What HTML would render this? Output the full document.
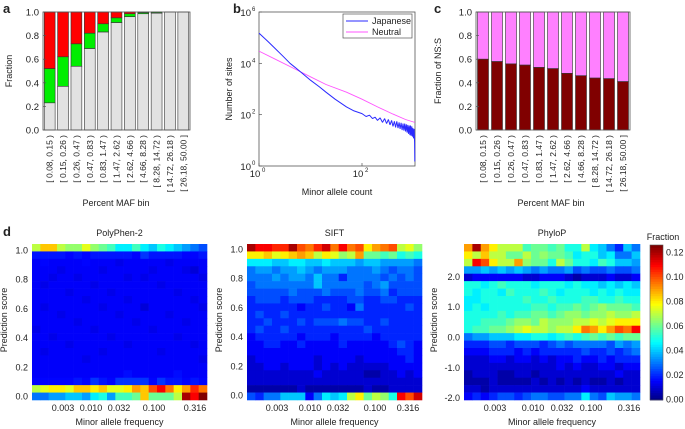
<!DOCTYPE html>
<html><head><meta charset="utf-8">
<style>
html,body{margin:0;padding:0;background:#fff;}
svg{display:block;font-family:"Liberation Sans",sans-serif;}
text{fill:#222;}
</style></head>
<body>
<svg id="fig" width="685" height="429" viewBox="0 0 685 429" xmlns="http://www.w3.org/2000/svg">
<text x="3" y="13" font-size="13" font-weight="bold">a</text>
<text x="233" y="13" font-size="13" font-weight="bold">b</text>
<text x="434" y="13" font-size="13" font-weight="bold">c</text>
<text x="3" y="236" font-size="13" font-weight="bold">d</text>
<g id="ga"></g>
<g id="gb"></g>
<g id="gc"></g>
<g id="gd"></g>
</svg>
<script>
// ---- Panel a / c data ----
const mafBins = ["[ 0.08, 0.15 )","[ 0.15, 0.26 )","[ 0.26, 0.47 )","[ 0.47, 0.83 )","[ 0.83, 1.47 )","[ 1.47, 2.62 )","[ 2.62, 4.66 )","[ 4.66, 8.28 )","[ 8.28, 14.72 )","[ 14.72, 26.18 )","[ 26.18, 50.00 ]"];
const grayFrac = [0.23,0.37,0.54,0.69,0.83,0.91,0.96,0.985,0.99,1.0,1.0];
const greenTop = [0.52,0.62,0.73,0.82,0.90,0.95,0.985,0.995,0.997,1.0,1.0];
const nsFrac = [0.60,0.58,0.56,0.55,0.53,0.52,0.48,0.46,0.44,0.435,0.41];
const fracTicks = [0,0.2,0.4,0.6,0.8,1.0];

// ---- Panel b data ----
const jpCount = [1,1.5,2,3,4,5,7,10,15,20,30,50,70,100,120,140,160,180,200,225,250,275,300,325,350,375,400,425,450,475,500,525,550,575,600,625,650,675,700,725,750,775,800,825,850,875,900,925,950,975,1000,1025,1050,1060];
const jpSites = [150000,70000,40000,18000,10000,7000,4000,2200,1200,750,400,200,140,110,85,95,70,80,60,75,50,70,45,65,40,60,35,55,32,55,30,50,28,48,25,45,24,45,22,42,20,40,18,38,16,38,15,35,14,30,12,28,8,1.5];
const ntCount = [1,2,5,10,20,50,100,200,400,700,1000,1060];
const ntSites = [30000,15000,6000,3000,1500,750,400,200,105,65,52,50];
const bxTicks = [0,2];
const byTicks = [0,2,4,6];

// ---- Panel d data (fraction x100), 21 rows top->bottom, 21 cols ----
const xFreqTicks = ["0.003","0.010","0.032","0.100","0.316"];
const polyRows = [
[7,8.5,8.5,7,6.5,6.5,7.5,6.5,6,5.5,4.5,4.5,5.5,4.5,4,5,4.5,4,3.5,3,2.5],
[1.8,1.8,1.8,1.8,1.6,1.8,1.6,1.8,1.8,1.8,1.8,1.8,1.6,2.2,1.8,1.8,1.8,1.8,1.6,1.6,1.8],
[1.5,1.6,1.5,1.5,1.5,1.5,1.6,1.5,1.5,1.5,1.3,1.5,1.5,1.5,1.5,1.5,1.3,1.5,1.5,1.5,1.5],
[1.5,1.5,1.5,1.3,1.5,1.5,1.5,1.5,1.3,1.5,1.5,1.5,1.5,1.5,1.3,1.5,1.5,1.5,1.3,1.1,1.5],
[1.5,1.5,1.3,1.5,1.5,1.3,1.5,1.5,1.5,1.5,1.5,1.3,1.5,1.3,1.5,1.5,1.5,1.5,1.5,1.5,1.3],
[1.5,1.3,1.5,1.5,1.5,1.5,1.5,1.3,1.5,1.5,1.5,1.5,1.5,1.5,1.5,1.3,1.5,1.5,1.5,1.5,1.5],
[1.5,1.5,1.5,1.5,1.3,1.5,1.5,1.5,1.5,1.3,1.5,1.5,1.5,1.5,1.5,1.5,1.5,1.3,1.5,1.5,1.5],
[1.5,1.5,1.5,1.5,1.5,1.5,1.3,1.5,1.5,1.5,1.5,1.3,1.5,1.5,1.5,1.5,1.5,1.5,1.5,1.3,1.5],
[1.5,1.3,1.5,1.5,1.5,1.5,1.5,1.5,1.3,1.5,1.5,1.5,1.5,1.1,1.5,1.5,1.5,1.5,1.5,1.5,1.3],
[1.5,1.5,1.5,1.3,1.5,1.5,1.5,1.5,1.5,1.5,1.3,1.5,1.5,1.5,1.5,1.5,1.3,1.5,1.5,1.5,1.5],
[1.5,1.5,1.5,1.5,1.5,1.3,1.5,1.5,1.5,1.5,1.5,1.5,1.3,1.5,1.5,1.5,1.5,1.5,1.3,1.5,1.5],
[1.3,1.5,1.5,1.5,1.5,1.5,1.5,1.3,1.5,1.5,1.5,1.5,1.5,1.5,1.3,1.5,1.5,1.5,1.5,1.5,1.5],
[1.5,1.5,1.3,1.5,1.5,1.5,1.5,1.5,1.5,1.3,1.5,1.5,1.5,1.5,1.5,1.5,1.5,1.3,1.5,1.5,1.5],
[1.5,1.5,1.5,1.5,1.3,1.5,1.5,1.5,1.5,1.5,1.5,1.3,1.5,1.5,1.5,1.5,1.5,1.5,1.5,1.3,1.5],
[1.5,1.3,1.5,1.5,1.5,1.5,1.5,1.5,1.3,1.5,1.5,1.5,1.5,1.5,1.5,1.3,1.5,1.5,1.5,1.5,1.5],
[1.5,1.5,1.5,1.5,1.5,1.5,1.3,1.5,1.5,1.5,1.5,1.5,1.5,1.5,1.5,1.5,1.5,1.5,1.5,1.5,1.3],
[1.5,1.5,1.5,1.5,1.5,1.5,1.5,1.5,1.5,1.5,1.5,1.5,1.5,1.5,1.5,1.5,1.5,1.5,1.5,1.5,1.5],
[1.5,1.5,1.5,1.5,1.5,1.5,1.5,1.5,1.5,1.5,1.5,1.7,1.5,1.5,1.5,1.5,1.5,1.7,1.5,1.5,1.5],
[1.6,1.6,1.6,1.6,1.6,1.8,1.6,2.2,1.8,1.6,2.2,2.2,2.2,2.2,1.6,2.2,1.8,1.8,1.6,1.8,1.6],
[7,7.5,8,8,7.5,8.5,8.5,8,8.5,7.5,7.5,8,9,8.5,10,11,9.5,8,9,10.5,9.5],
[3,3,3.5,3.5,4,4,3.5,4.5,5,3.5,5.5,5.5,6,8.5,6,6,6,7,12,11,12.5]];
const siftRows = [
[12,11,11,10.5,10.5,12,10,9.5,10.5,11.5,9.5,11,9.5,10,8,9,9.5,10,7,7.5,6.5],
[8,8,8.5,7.5,8,8.5,9,8.5,7,8,7.5,6.5,7,9,6,6,5.5,6,5,5.5,5],
[4.5,4.5,4.5,4,4,4.5,4.5,4,4,4.5,4,4,4,3.5,4,4,3.5,3.5,3.5,3.5,3],
[3,3.5,3.5,3,3.5,3.5,4,3.5,3,3.5,3.5,3.5,3,3,3,3.5,3,2.5,3,3,2.5],
[3,3,3,3.5,3,3.5,3.5,3,4,3,3,2,3,3,3,3,2.5,3,2.5,3,2.5],
[2.5,3,3,3,3,3,3,3,4,3,3,3,3,3,2.5,3,3.5,2.5,2.5,2.5,2.5],
[2.5,2.5,2.5,2.5,2.5,3,2.5,2.5,2.5,3,2.5,2.5,2.5,3,2.5,2.5,3,2,2.5,2.5,2.5],
[2,2.5,2.5,2.5,2,2.5,2.5,2.5,2,2,2,2,2.5,2.5,2,2,2.5,2.5,2,2,2],
[2,2,2,2,2,2,1.5,2,2,2.5,2,2,1.5,3,2,2,2,2,2,2.5,2],
[2,2.5,2,2,2.5,2,2,2,2,2,2,2,2,2,2,2,2,2,2,2,2],
[2,2,2.5,2,2,2,2.5,2,2.5,2.5,2.5,3,2.5,2.5,2,2,2.5,2,2,2,2],
[2,2.5,2,2,2.5,2,2,2,2,2,2,2,2,2,2.5,2,2,2,2,2,2],
[1.5,2,2,2,2,2,1.5,2,2,2,1.5,2,2,2,2,1.5,2,2,2,2,2],
[1.5,1.5,2,2,1.5,1.5,2,1.5,1.5,1.5,1.5,2,1.5,1.5,1.5,1.5,1.5,2,2.5,2,1.5],
[1.5,1.5,1.5,1.5,1.5,1.5,1.5,1.5,1.5,1.5,1.5,1.5,1.5,1.5,1.5,1.5,1.5,1.5,2,2,1.5],
[1,1.5,1.5,1.5,1.5,1.5,1.5,1.5,1,1.5,1.5,1.5,1.5,1,1.5,1.5,1.5,1.5,1.5,2,1.5],
[1,1,1.5,1.5,1,1.5,1.5,1.5,1,1.5,1,1.5,1,1,1,1,1,1.5,1.5,1.5,1.5],
[1,1,1,1,1,1,1,1,1.5,1,1,1,1,1,0.5,0.5,1,1,1.5,1,1.5],
[1,1,1,1,1,1,1,1,1,1,1,1,1,1,1,1,1,1,1,1,1],
[0.5,0.5,0.5,0.5,0.5,0.5,1,0.5,0.5,0.5,0.5,0.5,0.5,0.5,1,0.5,0.5,1,1,1,1],
[2.5,2,3,3,4,4,4,1.5,3,4.5,4,4.5,7,8,6,7,6.5,5,11,10,11.5]];
const phyloRows = [
[9,12,9,8,7,7,7,5.5,6,6,5.5,6,5,5,7,4.5,4,3,2,4,3],
[8,7,8.5,7,7,6,6,7,6,6.5,6,6,5.5,4.5,5,5,4,4.5,3,3,4],
[7,11,10,8,7,7,9,6.5,6,6,5,7,6,5,5,4.5,5.5,5,4,4,3.5],
[3.5,3.5,4,3.5,4,3.5,4,3.5,3,3.5,3,3,3.5,2.5,3,2.5,2.5,3,2.5,2.5,3],
[1,1.5,1.5,1.5,1.5,1.5,1.5,1,1,1.5,1.5,1.5,1,0.5,1,1,1,1.5,1,1,1.5],
[5,5,4.5,5,5.5,5,5,5,4.5,5,5,5,4.5,5,4.5,4.5,4,4.5,4,4.5,4],
[5,4.5,5,5,4.5,5.5,5,5,5,5.5,5,4.5,5,5,5,4.5,5,4.5,5,4.5,4.5],
[4.5,4.5,5,5,5,5,5,5.5,5,5,5.5,5,5,5,5.5,5.5,5,5,5.5,5,5],
[4.5,5,4.5,5,5,5,5,5,5.5,5.5,5,5.5,5.5,6,5.5,6,6.5,6,6,6,5.5],
[5,5,5,5,5.5,5,5.5,5.5,6,6,5.5,6,6.5,6.5,6,6.5,6.5,7,6.5,6.5,7],
[5,5,5.5,5.5,5.5,6,6.5,6.5,6,7,6.5,6.5,6.5,7,7,7.5,7,7.5,8,8,8],
[5,5.5,5.5,6,6,6.5,7,7.5,7,7,6.5,7,7,8,9.5,9,8,9,10,9.5,11],
[3,3.5,3.5,4,4,4,4.5,4.5,5,5,4.5,5,5.5,5,5.5,6,5.5,6,5.5,6,6],
[2,2,2,2.5,2.5,2,2.5,2.5,2.5,2,2.5,3,2.5,3,3,3,3,2.5,3.5,3,3.5],
[1.5,1.5,1.5,2,2,2,1.5,2,1.5,2,2,2,2,2,2.5,2,2,2.5,2,2.5,3],
[1,1,1,1.5,1.5,1,1.5,1.5,1,1.5,1,1.5,1.5,2,1.5,1.5,2,1.5,2,2,2],
[1,1,1,1,1,1,1,1,1,1,1,1.5,1,1.5,1,1,1.5,1.5,1,1.5,1.5],
[0.5,1,1,1,0.5,0.5,1,1,0.5,1,1,1,1,1,1,1,1,1,1.5,1,1],
[0.5,0.5,0.5,1,0.5,0.5,0.5,0.5,1,0.5,1,0.5,1,0.5,1,0.5,0.5,1,0.5,1,1],
[1,1,0.5,1,1,1,1,1,1,1,1,1,1,1,1.5,1,1,1,1,1,1],
[1.5,2,1.5,2,2.5,2.5,2,2.5,3,3,2.5,2.5,3,3,4.5,3,2.5,4,3.5,3.5,3]];
const cbTicks = [0,0.02,0.04,0.06,0.08,0.10,0.12];
const polyYTicks = [0,0.2,0.4,0.6,0.8,1.0];
const phyloYTicks = [-2,-1,0,1,2];

const NS = "http://www.w3.org/2000/svg";
function mk(tag, attrs, parent, txt){
  const e = document.createElementNS(NS, tag);
  for (const k in attrs) e.setAttribute(k, attrs[k]);
  if (txt !== undefined) e.textContent = txt;
  parent.appendChild(e);
  return e;
}

// ================= Panel a =================
(function(){
  const g = document.getElementById('ga');
  const L=43, R=190, T=12, B=130;
  const y = v => B - v*(B-T);
  const pitch = (R-L)/mafBins.length, bw = pitch-2.5;
  mafBins.forEach((lab,i)=>{
    const x = L + i*pitch + 1.25;
    let r = mk('rect',{x:x,y:y(1),width:bw,height:y(greenTop[i])-y(1),fill:'#ff0000',stroke:'#333','stroke-width':0.6},g);
    
    
    r = mk('rect',{x:x,y:y(greenTop[i]),width:bw,height:y(grayFrac[i])-y(greenTop[i]),fill:'#00ee00',stroke:'#333','stroke-width':0.6},g);
    
    
    r = mk('rect',{x:x,y:y(grayFrac[i]),width:bw,height:B-y(grayFrac[i]),fill:'#e2e2e2',stroke:'#333','stroke-width':0.6},g);
    
    
    const cx = x+bw/2+3;
    const t = mk('text',{x:0,y:0,'font-size':8.5,'text-anchor':'end',transform:`translate(${cx},135) rotate(-90)`},g,lab);
    
    
  });
  mk('rect',{x:L,y:T,width:R-L,height:B-T,fill:'none',stroke:'#555','stroke-width':0.8},g);
  fracTicks.forEach(v=>{
    mk('line',{x1:L,x2:L+3,y1:y(v),y2:y(v),stroke:'#555','stroke-width':0.7},g);
    const t = mk('text',{x:L-4,y:y(v)+3.5,'font-size':9.5,'text-anchor':'end'},g,v.toFixed(1));
    
    
  });
  let t = mk('text',{x:0,y:0,'font-size':9,'text-anchor':'middle',transform:'translate(12,71) rotate(-90)'},g,'Fraction');
  
  
  t = mk('text',{x:116,y:206,'font-size':9,'text-anchor':'middle'},g,'Percent MAF bin');
  
  
})();

// ================= Panel c =================
(function(){
  const g = document.getElementById('gc');
  const L=476, R=630, T=12, B=130;
  const y = v => B - v*(B-T);
  const pitch = (R-L)/mafBins.length, bw = pitch-3;
  mafBins.forEach((lab,i)=>{
    const x = L + i*pitch + 1.5;
    let r = mk('rect',{x:x,y:y(1),width:bw,height:y(nsFrac[i])-y(1),fill:'#ff80ff',stroke:'#333','stroke-width':0.6},g);
    
    
    r = mk('rect',{x:x,y:y(nsFrac[i]),width:bw,height:B-y(nsFrac[i]),fill:'#800000',stroke:'#333','stroke-width':0.6},g);
    
    
    const cx = x+bw/2+3;
    const t = mk('text',{x:0,y:0,'font-size':8.5,'text-anchor':'end',transform:`translate(${cx},135) rotate(-90)`},g,lab);
    
    
  });
  mk('rect',{x:L,y:T,width:R-L,height:B-T,fill:'none',stroke:'#555','stroke-width':0.8},g);
  fracTicks.forEach(v=>{
    mk('line',{x1:L,x2:L+3,y1:y(v),y2:y(v),stroke:'#555','stroke-width':0.7},g);
    const t = mk('text',{x:L-4,y:y(v)+3.5,'font-size':9.5,'text-anchor':'end'},g,v.toFixed(1));
    
    
  });
  let t = mk('text',{x:0,y:0,'font-size':9,'text-anchor':'middle',transform:'translate(441,71) rotate(-90)'},g,'Fraction of NS:S');
  
  
  t = mk('text',{x:551,y:206,'font-size':9,'text-anchor':'middle'},g,'Percent MAF bin');
  
  
})();

// ================= Panel b =================
(function(){
  const g = document.getElementById('gb');
  const L=259, R=415, T=12, B=166;
  const xd = 51.5, yd = (B-T)/6;
  const x = c => L + Math.log10(c)*xd;
  const y = v => B - Math.log10(v)*yd;
  mk('rect',{x:L,y:T,width:R-L,height:B-T,fill:'#fff',stroke:'#555','stroke-width':0.8},g);
  const path = (cs,vs)=>cs.map((c,i)=>(i?'L':'M')+x(c).toFixed(1)+','+y(vs[i]).toFixed(1)).join('');
  let p = mk('path',{d:path(ntCount,ntSites),fill:'none',stroke:'#ff55ff','stroke-width':0.9},g);
  
  
  p = mk('path',{d:path(jpCount,jpSites),fill:'none',stroke:'#2a2aff','stroke-width':1,'stroke-linejoin':'bevel'},g);
  
  
  bxTicks.forEach(e=>{
    const xx = L + e*xd;
    mk('line',{x1:xx,x2:xx,y1:B,y2:B-3,stroke:'#555','stroke-width':0.7},g);
    const t = mk('text',{x:xx-4,y:B+11,'font-size':9.5,'text-anchor':'middle'},g,'10');
    
    
    mk('text',{x:xx+3,y:B+6,'font-size':6},g,String(e));
  });
  byTicks.forEach(e=>{
    const yy = B - e*yd;
    mk('line',{x1:L,x2:L+3,y1:yy,y2:yy,stroke:'#555','stroke-width':0.7},g);
    const t = mk('text',{x:L-8,y:yy+4,'font-size':9.5,'text-anchor':'end'},g,'10');
    
    
    mk('text',{x:L-7,y:yy-1,'font-size':6},g,String(e));
  });
  const lg = mk('g',{},g);
  
  
  mk('rect',{x:343,y:14,width:69,height:24,fill:'#fff',stroke:'#555','stroke-width':0.7},lg);
  mk('line',{x1:346,x2:368,y1:21,y2:21,stroke:'#2a2aff','stroke-width':0.9},lg);
  mk('line',{x1:346,x2:368,y1:32,y2:32,stroke:'#ff55ff','stroke-width':0.9},lg);
  let t = mk('text',{x:372,y:24,'font-size':9},lg,'Japanese');
  
  
  t = mk('text',{x:372,y:35,'font-size':9},lg,'Neutral');
  
  
  t = mk('text',{x:0,y:0,'font-size':9,'text-anchor':'middle',transform:'translate(232,89) rotate(-90)'},g,'Number of sites');
  
  
  t = mk('text',{x:337,y:195,'font-size':9,'text-anchor':'middle'},g,'Minor allele count');
  
  
})();

// ================= Panel d =================
function jet(v){
  const t = Math.max(0,Math.min(1,v/12.5));
  const c = a => Math.round(255*Math.max(0,Math.min(1,1.5-Math.abs(4*t-a))));
  return `rgb(${c(3)},${c(2)},${c(1)})`;
}
function heat(g, rows, L, R, T, B, name){
  const nr = rows.length, nc = rows[0].length;
  const cw = (R-L)/nc, ch = (B-T)/nr;
  rows.forEach((row,ri)=>row.forEach((v,ci)=>{
    const r = mk('rect',{x:(L+ci*cw).toFixed(2),y:(T+ri*ch).toFixed(2),width:(cw+0.3).toFixed(2),height:(ch+0.3).toFixed(2),fill:jet(v)},g);
    
    
  }));
}
function hmAxes(g, L, R, T, B, title, xPos, yTicks, yFn, yFmt, ylabX){
  let t = mk('text',{x:(L+R)/2,y:236,'font-size':9,'text-anchor':'middle'},g,title);
  
  
  xFreqTicks.forEach((lab,i)=>{
    const tx = L + xPos[i];
    const tt = mk('text',{x:tx,y:B+11,'font-size':9,'text-anchor':'middle'},g,lab);
    
    
  });
  yTicks.forEach(v=>{
    const tt = mk('text',{x:L-4,y:yFn(v)+3.5,'font-size':9,'text-anchor':'end'},g,yFmt(v));
    
    
  });
  t = mk('text',{x:(L+R)/2,y:425,'font-size':9,'text-anchor':'middle'},g,'Minor allele frequency');
  
  
  t = mk('text',{x:0,y:0,'font-size':9,'text-anchor':'middle',transform:`translate(${ylabX},320) rotate(-90)`},g,'Prediction score');
  
  
}
(function(){
  const g = document.getElementById('gd');
  const T=244, B=400;
  const g1 = mk('g',{},g);
  
  
  heat(g1, polyRows, 32, 207, T, B, 'polyphen');
  hmAxes(g1,32,207,T,B,'PolyPhen-2',[31,59,87,122,163],polyYTicks,v=>396-v*146,v=>v.toFixed(1),7);
  const g2 = mk('g',{},g);
  
  
  heat(g2, siftRows, 247, 422, T, B, 'sift');
  hmAxes(g2,247,422,T,B,'SIFT',[30,63,91,128,161],polyYTicks,v=>395-v*146,v=>v.toFixed(1),222);
  const g3 = mk('g',{},g);
  
  
  heat(g3, phyloRows, 464, 640, T, B, 'phylop');
  hmAxes(g3,464,640,T,B,'PhyloP',[31,69,98,127,165],phyloYTicks,v=>337-v*30.3,v=>v.toFixed(1),437);
  const cb = mk('g',{},g);
  
  
  const cT=245, cB=400, cL=650, cW=13;
  const n=64;
  for(let i=0;i<n;i++){
    const v0 = 12.57*i/n;
    mk('rect',{x:cL,y:(cB-(i+1)*(cB-cT)/n).toFixed(2),width:cW,height:((cB-cT)/n+0.4).toFixed(2),fill:jet(v0+0.1)},cb);
  }
  mk('rect',{x:cL,y:cT,width:cW,height:cB-cT,fill:'none',stroke:'#555','stroke-width':0.6},cb);
  cbTicks.forEach(v=>{
    const yy = 399 - v*1225;
    const t = mk('text',{x:cL+cW+3,y:yy+3.5,'font-size':9},cb,v.toFixed(2));
    
    
  });
  const t = mk('text',{x:663,y:240,'font-size':9,'text-anchor':'middle'},cb,'Fraction');
  
  
})();
</script>
</body></html>
